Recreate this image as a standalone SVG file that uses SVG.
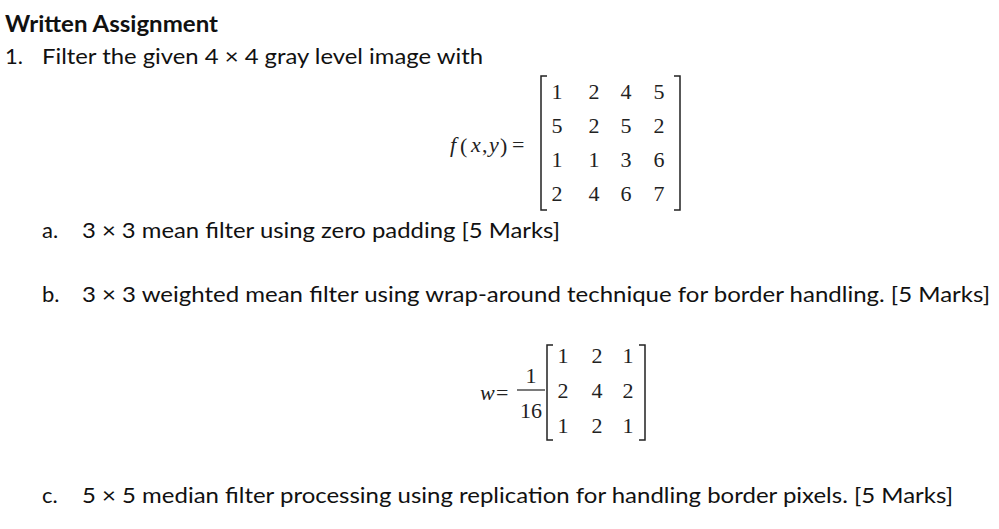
<svg xmlns="http://www.w3.org/2000/svg" width="999" height="529" viewBox="0 0 999 529">
<style>
.t{font-family:Lato,"Open Sans","Liberation Sans",sans-serif;font-size:22px;fill:#111}
.b{font-weight:bold}
.m{font-family:"Liberation Serif",serif;font-size:22px;fill:#222}
.i{font-style:italic}
.br{fill:none;stroke:#222;stroke-width:1.5}
</style>
<rect width="999" height="529" fill="#fff"/>
<text class="t b" x="5" y="32" textLength="213" lengthAdjust="spacingAndGlyphs">Written Assignment</text>
<text class="t" x="5" y="64">1.</text>
<text class="t" x="42" y="64" textLength="441" lengthAdjust="spacingAndGlyphs">Filter the given 4 × 4 gray level image with</text>
<g id="matrix-f">
<text class="m i" x="450" y="152">f</text>
<text class="m" x="460" y="153" font-size="28">(</text>
<text class="m i" x="471" y="152">x</text>
<text class="m" x="482" y="152">,</text>
<text class="m i" x="489" y="152">y</text>
<text class="m" x="500" y="153" font-size="28">)</text>
<text class="m" x="512" y="152">=</text>
<path class="br" d="M547 76H541V210H547M674 76H680V210H674"/>
<g class="m" text-anchor="middle">
<text x="557" y="99">1</text><text x="594" y="99">2</text><text x="626" y="99">4</text><text x="659" y="99">5</text>
<text x="557" y="133">5</text><text x="594" y="133">2</text><text x="626" y="133">5</text><text x="659" y="133">2</text>
<text x="557" y="167">1</text><text x="594" y="167">1</text><text x="626" y="167">3</text><text x="659" y="167">6</text>
<text x="557" y="201">2</text><text x="594" y="201">4</text><text x="626" y="201">6</text><text x="659" y="201">7</text>
</g>
</g>
<text class="t" x="42" y="238">a.</text>
<text class="t" x="82" y="238" textLength="478" lengthAdjust="spacingAndGlyphs">3 × 3 mean filter using zero padding [5 Marks]</text>
<text class="t" x="42" y="302">b.</text>
<text class="t" x="82" y="302" textLength="908" lengthAdjust="spacingAndGlyphs">3 × 3 weighted mean filter using wrap-around technique for border handling. [5 Marks]</text>
<g id="matrix-w">
<text class="m i" x="480" y="400">w</text>
<text class="m" x="496" y="400">=</text>
<text class="m" x="531" y="383" text-anchor="middle">1</text>
<line x1="517" y1="390" x2="545" y2="390" stroke="#222" stroke-width="1.2"/>
<text class="m" x="531" y="418" text-anchor="middle">16</text>
<path class="br" d="M553 345H547V440H553M639 345H645V440H639"/>
<g class="m" text-anchor="middle">
<text x="563" y="363">1</text><text x="597" y="363">2</text><text x="628" y="363">1</text>
<text x="563" y="398">2</text><text x="597" y="398">4</text><text x="628" y="398">2</text>
<text x="563" y="433">1</text><text x="597" y="433">2</text><text x="628" y="433">1</text>
</g>
</g>
<text class="t" x="42" y="503">c.</text>
<text class="t" x="82" y="503" textLength="871" lengthAdjust="spacingAndGlyphs">5 × 5 median filter processing using replication for handling border pixels. [5 Marks]</text>
</svg>
